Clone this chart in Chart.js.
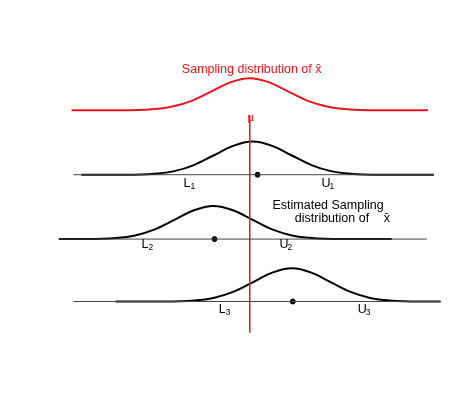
<!DOCTYPE html>
<html><head><meta charset="utf-8">
<script src="https://cdn.jsdelivr.net/npm/chart.js@4"></script>
<style>html,body{margin:0;background:#fff}#c{width:474px;height:406px}</style>
</head><body><div id="c"><canvas id="chart"></canvas></div>
<script>
// curves (x, y in picture units, y grows downward)
const redX = [68, 120, 150, 170, 190, 210, 230, 250, 270, 290, 310, 330, 350, 380, 432];
const redY = [108, 108, 107, 104.4, 98.5, 89, 79.3, 75, 79.3, 89, 98.5, 104.4, 107, 108, 108];
const c1X = [78, 123, 153, 173, 193, 213, 233, 253, 273, 293, 313, 333, 353, 383, 438];
const c1Y = [174, 174, 173, 170.3, 164.1, 154.3, 144.4, 140, 144.4, 154.3, 164.1, 170.3, 173, 174, 174];
const c2X = [55, 83, 113, 133, 153, 173, 193, 213, 233, 253, 273, 293, 313, 343, 395];
const c2Y = [240, 240, 239, 236.3, 230.1, 220.3, 210.4, 206, 210.4, 220.3, 230.1, 236.3, 239, 240, 240];
const c3X = [113, 163, 193, 213, 233, 253, 273, 293, 313, 333, 353, 373, 393, 423, 445];
const c3Y = [304, 304, 303, 300.3, 294.1, 284.3, 274.4, 270, 274.4, 284.3, 294.1, 300.3, 303, 304, 304];
const baseLines = [[70, 438, 174], [55, 431, 240], [70, 445, 304]];
const dots = [[258, 174], [214, 240], [294, 304]];
const muLine = [[250, 113], [250, 336]];
const labels = [['L', '1', 186, 183], ['U', '1', 328, 183], ['L', '2', 143, 246], ['U', '2', 285, 246], ['L', '3', 222, 312], ['U', '3', 365, 312]];

const pts = (xs, ys) => xs.map((x, i) => ({x, y: ys[i]}));
const curve = (data, color) => ({data, borderColor: color, borderWidth: 2, pointRadius: 0, showLine: true, cubicInterpolationMode: 'monotone'});

const datasets = [];
baseLines.forEach(b => datasets.push({data: [{x: b[0], y: b[2]}, {x: b[1], y: b[2]}], borderColor: '#444', borderWidth: 1, pointRadius: 0, showLine: true}));
datasets.push({data: muLine.map(p => ({x: p[0], y: p[1]})), borderColor: '#e02020', borderWidth: 1, pointRadius: 0, showLine: true});
datasets.push(curve(pts(redX, redY), '#e8141c'));
datasets.push(curve(pts(c1X, c1Y), '#000'));
datasets.push(curve(pts(c2X, c2Y), '#000'));
datasets.push(curve(pts(c3X, c3Y), '#000'));
datasets.push({data: dots.map(p => ({x: p[0], y: p[1]})), backgroundColor: '#000', borderColor: '#000', pointRadius: 2.5, showLine: false});

const textPlugin = {
  id: 'texts',
  afterDatasetsDraw(chart) {
    const {ctx, scales: {x, y}} = chart;
    const put = (t, px, py, color, size) => {
      ctx.fillStyle = color; ctx.font = size + 'px "Liberation Sans", Arial, sans-serif';
      ctx.textAlign = 'center'; ctx.textBaseline = 'middle';
      ctx.fillText(t, x.getPixelForValue(px), y.getPixelForValue(py));
    };
    ctx.save();
    put('Sampling distribution of x\u0304', 252, 66, '#e8141c', 12.5);
    put('\u00b5', 251, 116, '#e8141c', 11);
    put('Estimated Sampling', 330, 206, '#000', 12.5);
    put('distribution of', 334, 219, '#000', 12.5);
    put('x\u0304', 390, 219, '#000', 12.5);
    labels.forEach(l => {
      put(l[0], l[2], l[3], '#000', 12.5);
      put(l[1], l[2] + 6, l[3] + 3, '#000', 8.5);
    });
    ctx.restore();
  }
};

new Chart(document.getElementById('chart'), {
  type: 'scatter',
  data: {datasets},
  options: {
    animation: false, responsive: true, maintainAspectRatio: false,
    layout: {padding: 0},
    plugins: {legend: {display: false}, tooltip: {enabled: false}},
    scales: {
      x: {type: 'linear', min: 0, max: 474, display: false},
      y: {type: 'linear', min: 0, max: 406, reverse: true, display: false}
    }
  },
  plugins: [textPlugin]
});
</script></body></html>
